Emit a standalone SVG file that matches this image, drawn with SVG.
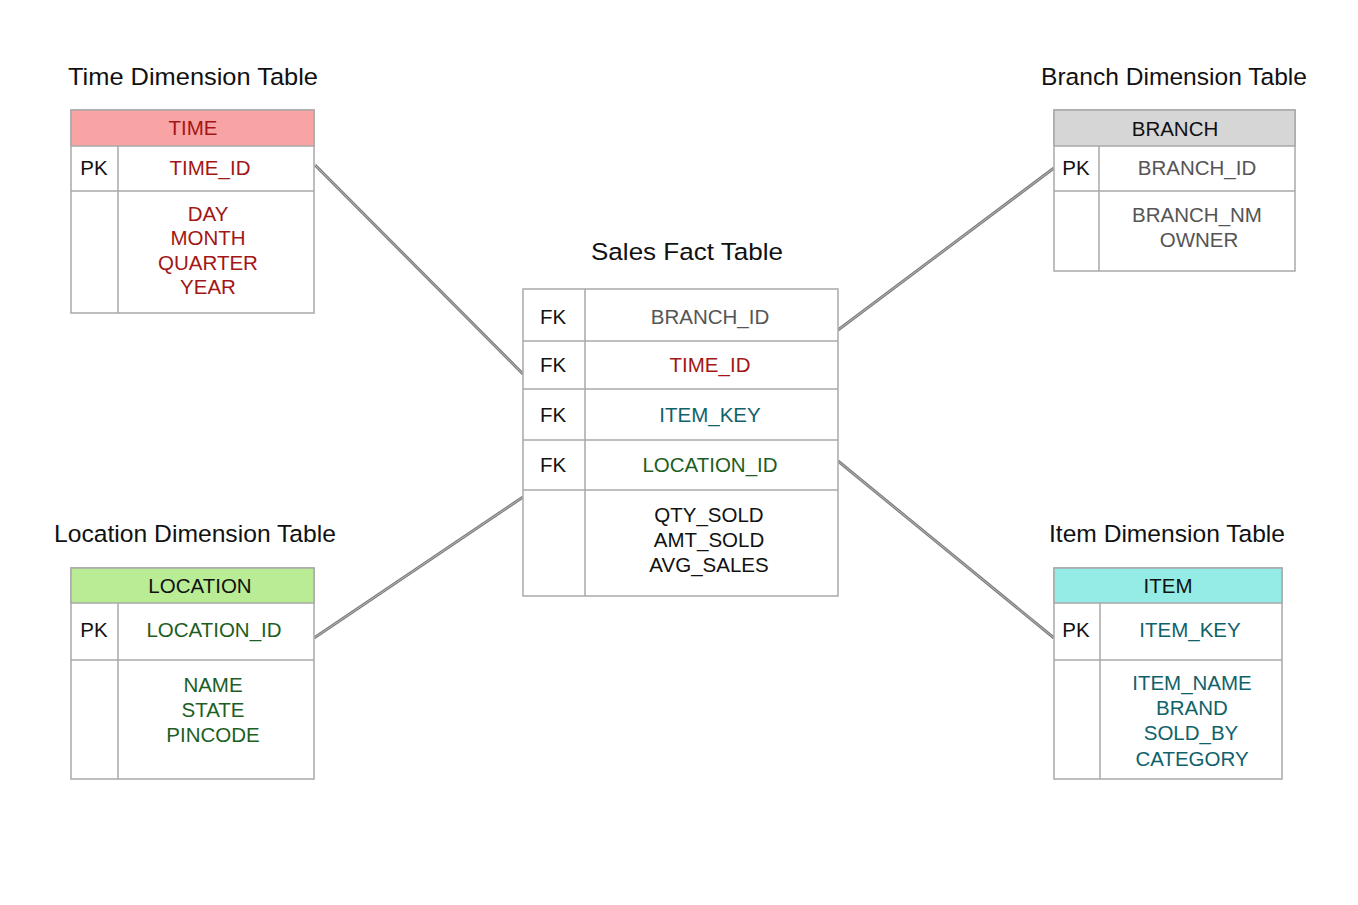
<svg xmlns="http://www.w3.org/2000/svg" width="1358" height="905" viewBox="0 0 1358 905">
<defs>
<style>
text{font-family:"Liberation Sans",Arial,sans-serif;text-anchor:middle}
.title{font-size:24.5px;fill:#111}
.cell{font-size:20.5px}
.k{fill:#111}
.box{fill:#fff;stroke:#a9a9a9;stroke-width:1.5}
.ln{stroke:#a9a9a9;stroke-width:1.5}
.conn{stroke:#7c7c7c;stroke-width:3;fill:none}
.conn2{stroke:#c8c8c8;stroke-width:0.8;fill:none}
.red{fill:#a31616}
.grn{fill:#1d5e22}
.teal{fill:#10626a}
.gray{fill:#555}
</style>
</defs>
<rect width="1358" height="905" fill="#fff"/>
<g id="connectors">
<line class="conn" x1="315" y1="165" x2="523" y2="374"/>
<line class="conn" x1="838" y1="330" x2="1054" y2="168"/>
<line class="conn" x1="314" y1="638" x2="523" y2="497"/>
<line class="conn" x1="838" y1="461" x2="1054" y2="638"/>
<line class="conn2" x1="315" y1="165" x2="523" y2="374"/>
<line class="conn2" x1="838" y1="330" x2="1054" y2="168"/>
<line class="conn2" x1="314" y1="638" x2="523" y2="497"/>
<line class="conn2" x1="838" y1="461" x2="1054" y2="638"/>
</g>
<g id="time">
<text class="title" x="193" y="85" textLength="250" lengthAdjust="spacingAndGlyphs">Time Dimension Table</text>
<rect class="box" x="71" y="110" width="243" height="203"/>
<rect x="71" y="110" width="243" height="36" fill="#f9a4a4" stroke="#a9a9a9" stroke-width="1.5"/>
<line class="ln" x1="71" y1="191" x2="314" y2="191"/>
<line class="ln" x1="118" y1="146" x2="118" y2="313"/>
<text class="cell red" x="193" y="135">TIME</text>
<text class="cell k" x="94" y="175">PK</text>
<text class="cell red" x="210" y="175">TIME_ID</text>
<text class="cell red" x="208" y="221">DAY</text>
<text class="cell red" x="208" y="245">MONTH</text>
<text class="cell red" x="208" y="270">QUARTER</text>
<text class="cell red" x="208" y="294">YEAR</text>
</g>
<g id="branch">
<text class="title" x="1174" y="85" textLength="266" lengthAdjust="spacingAndGlyphs">Branch Dimension Table</text>
<rect class="box" x="1054" y="110" width="241" height="161"/>
<rect x="1054" y="110" width="241" height="36" fill="#d6d6d6" stroke="#a9a9a9" stroke-width="1.5"/>
<line class="ln" x1="1054" y1="191" x2="1295" y2="191"/>
<line class="ln" x1="1099" y1="146" x2="1099" y2="271"/>
<text class="cell k" x="1175" y="136">BRANCH</text>
<text class="cell k" x="1076" y="175">PK</text>
<text class="cell gray" x="1197" y="175">BRANCH_ID</text>
<text class="cell gray" x="1197" y="222">BRANCH_NM</text>
<text class="cell gray" x="1199" y="247">OWNER</text>
</g>
<g id="fact">
<text class="title" x="687" y="260" textLength="192" lengthAdjust="spacingAndGlyphs">Sales Fact Table</text>
<rect class="box" x="523" y="289" width="315" height="307"/>
<line class="ln" x1="523" y1="341" x2="838" y2="341"/>
<line class="ln" x1="523" y1="389" x2="838" y2="389"/>
<line class="ln" x1="523" y1="440" x2="838" y2="440"/>
<line class="ln" x1="523" y1="490" x2="838" y2="490"/>
<line class="ln" x1="585" y1="289" x2="585" y2="596"/>
<text class="cell k" x="553" y="324">FK</text>
<text class="cell gray" x="710" y="324">BRANCH_ID</text>
<text class="cell k" x="553" y="372">FK</text>
<text class="cell red" x="710" y="372">TIME_ID</text>
<text class="cell k" x="553" y="422">FK</text>
<text class="cell teal" x="710" y="422">ITEM_KEY</text>
<text class="cell k" x="553" y="472">FK</text>
<text class="cell grn" x="710" y="472">LOCATION_ID</text>
<text class="cell k" x="709" y="522">QTY_SOLD</text>
<text class="cell k" x="709" y="547">AMT_SOLD</text>
<text class="cell k" x="709" y="572">AVG_SALES</text>
</g>
<g id="location">
<text class="title" x="195" y="542" textLength="282" lengthAdjust="spacingAndGlyphs">Location Dimension Table</text>
<rect class="box" x="71" y="568" width="243" height="211"/>
<rect x="71" y="568" width="243" height="35" fill="#b9ec95" stroke="#a9a9a9" stroke-width="1.5"/>
<line class="ln" x1="71" y1="660" x2="314" y2="660"/>
<line class="ln" x1="118" y1="603" x2="118" y2="779"/>
<text class="cell k" x="200" y="593">LOCATION</text>
<text class="cell k" x="94" y="637">PK</text>
<text class="cell grn" x="214" y="637">LOCATION_ID</text>
<text class="cell grn" x="213" y="692">NAME</text>
<text class="cell grn" x="213" y="717">STATE</text>
<text class="cell grn" x="213" y="742">PINCODE</text>
</g>
<g id="item">
<text class="title" x="1167" y="542" textLength="236" lengthAdjust="spacingAndGlyphs">Item Dimension Table</text>
<rect class="box" x="1054" y="568" width="228" height="211"/>
<rect x="1054" y="568" width="228" height="35" fill="#95ece6" stroke="#a9a9a9" stroke-width="1.5"/>
<line class="ln" x1="1054" y1="660" x2="1282" y2="660"/>
<line class="ln" x1="1100" y1="603" x2="1100" y2="779"/>
<text class="cell k" x="1168" y="593">ITEM</text>
<text class="cell k" x="1076" y="637">PK</text>
<text class="cell teal" x="1190" y="637">ITEM_KEY</text>
<text class="cell teal" x="1192" y="690">ITEM_NAME</text>
<text class="cell teal" x="1192" y="715">BRAND</text>
<text class="cell teal" x="1191" y="740">SOLD_BY</text>
<text class="cell teal" x="1192" y="766">CATEGORY</text>
</g>
</svg>
